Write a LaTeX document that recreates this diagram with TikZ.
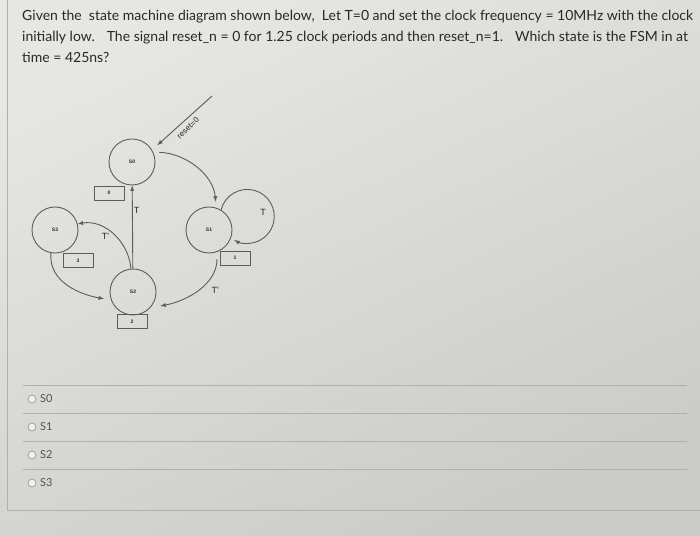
\documentclass[tikz,border=0pt]{standalone}
\usepackage{fontspec}
\setmainfont{Lato}
\newfontfamily\diagfont{Liberation Sans}
\usetikzlibrary{arrows}
\definecolor{paper}{RGB}{230,230,227}
\definecolor{paperdk}{RGB}{203,203,199}
\definecolor{ink}{RGB}{40,40,40}
\definecolor{pen}{RGB}{92,92,92}
\definecolor{rule}{RGB}{176,176,172}

\tikzset{
  state/.style={circle,draw=pen,line width=0.9pt,minimum size=46pt,inner sep=0pt,
    font=\diagfont\fontsize{5}{6}\selectfont\bfseries,text=ink},
  outbox/.style={rectangle,draw=pen,line width=0.9pt,minimum width=30pt,minimum height=14pt,
    inner sep=0pt,font=\diagfont\fontsize{5}{6}\selectfont\bfseries,text=ink},
  arr/.style={-latex,draw=pen,line width=0.9pt},
  tlab/.style={font=\diagfont\fontsize{9}{10}\selectfont,text=ink,inner sep=1pt},
  qline/.style={anchor=base west,inner sep=0pt,font=\fontsize{14}{16}\selectfont,text=ink},
  radio/.style={circle,draw=pen!70,fill=paper!60!white,line width=0.6pt,minimum size=8pt,inner sep=0pt},
}

\begin{document}
\begin{tikzpicture}[x=1pt,y=1pt]
  \shade[top color=paper,bottom color=paperdk,shading angle=25](0,0)rectangle(700,535);
  \useasboundingbox (0,0) rectangle (700,535);
  % question text
  \node[qline](q1)at(22,514){Given the \ state machine diagram shown below, \ Let T=0 and set the clock frequency = 10MHz with the clock};
  \node[qline](q2)at(22,493){initially low. \ \ The signal reset\_n = 0 for 1.25 clock periods and then reset\_n=1. \ \ Which state is the FSM in at};
  \node[qline](q3)at(22,472){time = 425ns?};
  % states and outputs
  \node[state](s0)at(132,373){S0};
  \node[state](s1)at(209,305){S1};
  \node[state](s2)at(133,243){S2};
  \node[state](s3)at(55,305){S3};
  \node[outbox](o0)at(109,342){0};
  \node[outbox](o1)at(235,277){1};
  \node[outbox](o2)at(132,213.5){2};
  \node[outbox](o3)at(78,274.5){3};
  \coordinate(rst)at(212,439);
  % transitions
  \draw[arr,shorten >=7pt](rst)--(s0.31);
  \node[rotate=43,font=\diagfont\fontsize{8}{9}\selectfont,text=ink,inner sep=0pt](lr)at(188,407){reset=0};
  \draw[arr,shorten <=6pt,shorten >=6pt](s0.25)to[out=-2,in=95](s1.72);
  \draw[arr](s1.59)arc[start angle=166,end angle=-119,radius=27];
  \node[tlab](l1)at(263,323){T};
  \draw[arr,shorten <=7pt,shorten >=10pt](s1.-70)to[out=-90,in=10]node(l2)[tlab,pos=0.5,right=14pt]{T'}(s2.-42);
  \draw[arr](s2)--node(l3)[tlab,pos=0.7,right]{T}(s0);
  \draw[arr](s2.95)to[out=95,in=10]node(l4)[tlab,pos=0.55,below left]{T'}(s3.15);
  \draw[arr,shorten >=7pt](s3.-100)to[out=-95,in=170](s2.200);
  % answers
  \draw[rule,line width=0.8pt](7,535)--(7,25)--(700,25);
  \foreach \i in {0,...,3}{
    \draw[rule,line width=0.8pt](23,{150-28*\i})--(687,{150-28*\i});
    \node[radio](r\i)at(32,{136-28*\i}){};
    \node[anchor=west,inner sep=0pt,font=\fontsize{11}{13}\selectfont,text=ink!80](a\i)at(40,{136-28*\i}){S\i};
  }
\end{tikzpicture}
\end{document}
